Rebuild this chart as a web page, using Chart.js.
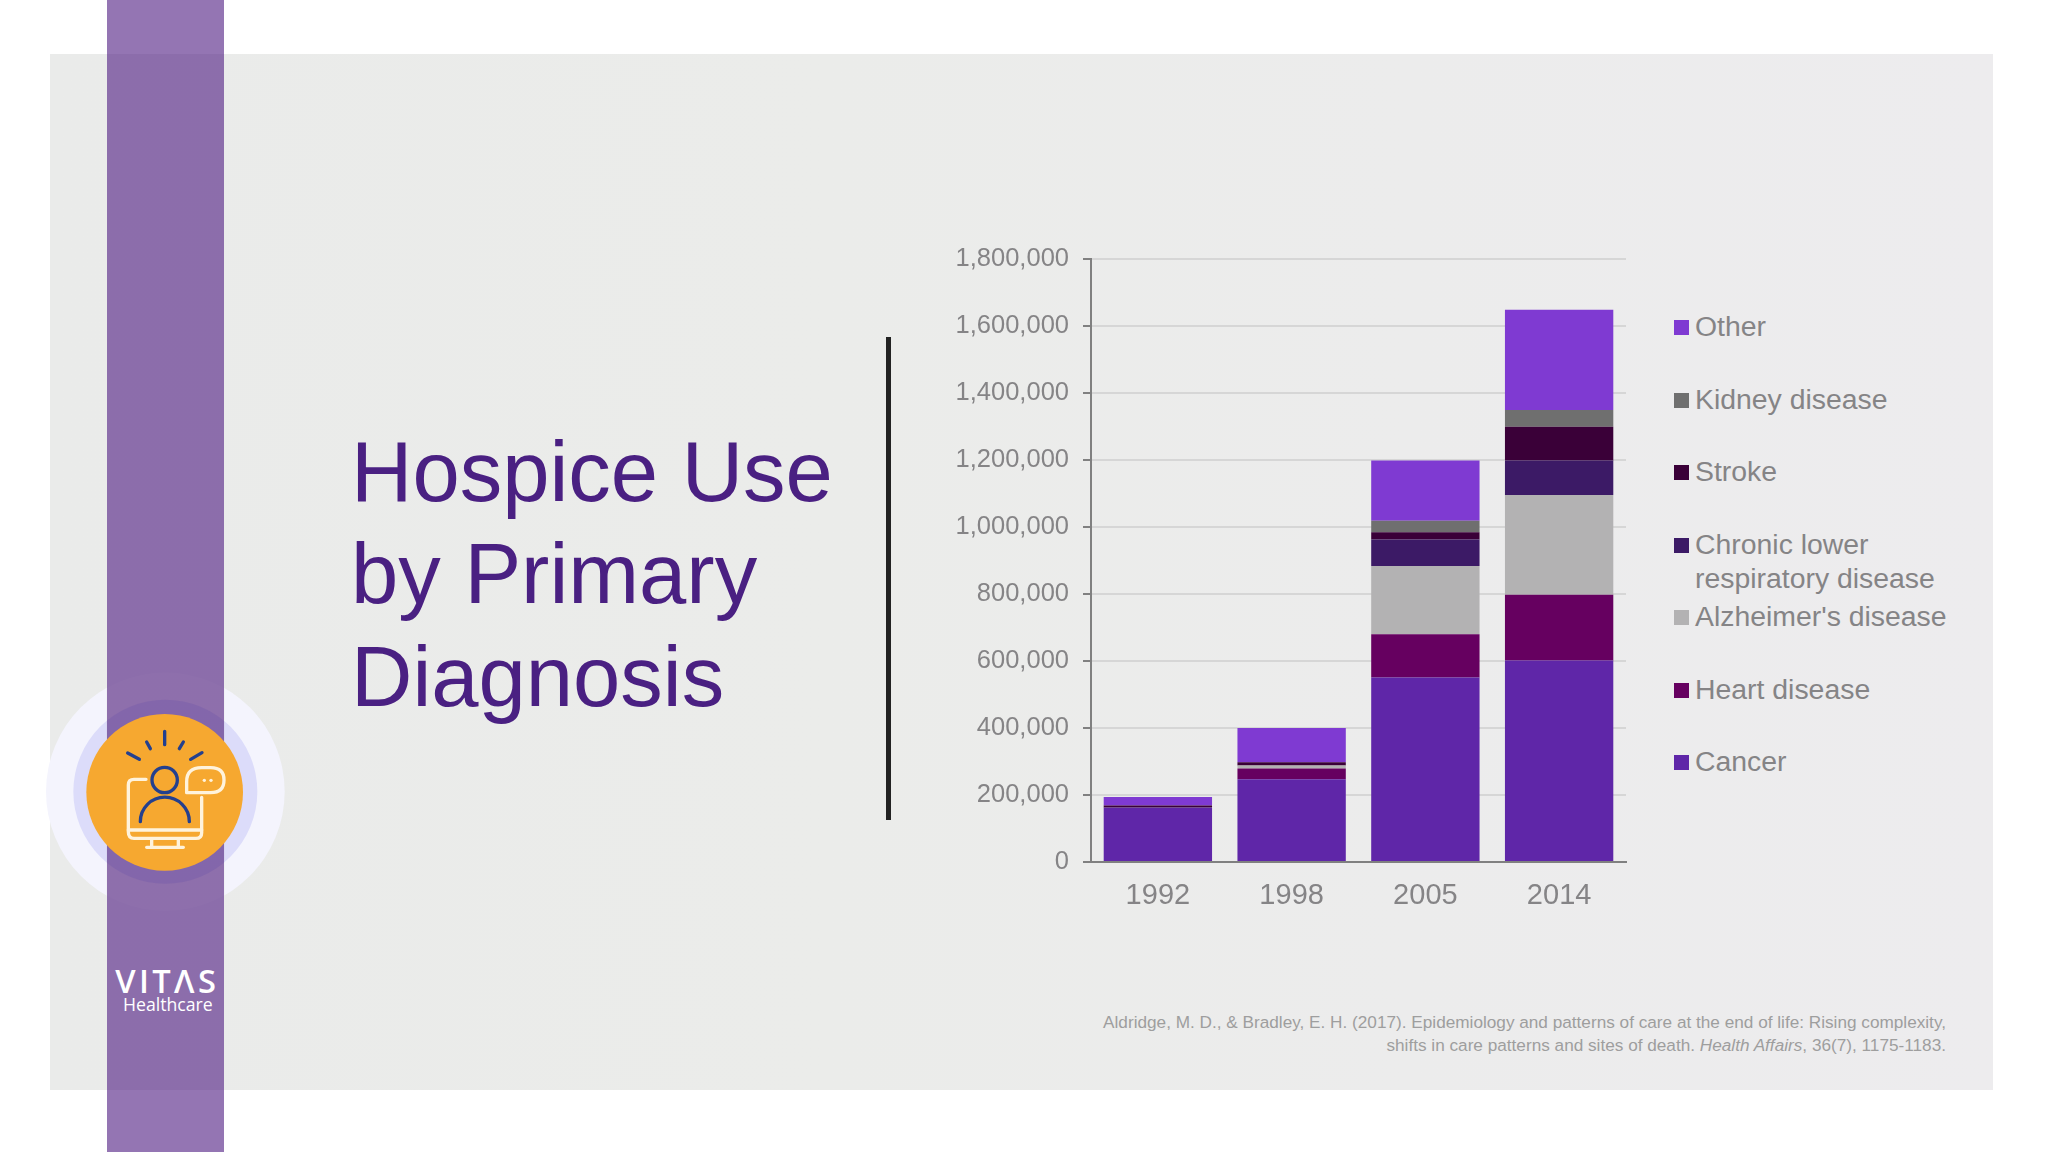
<!DOCTYPE html>
<html><head><meta charset="utf-8">
<style>
html,body{margin:0;padding:0;background:#fff;width:2048px;height:1152px;overflow:hidden;font-family:"Liberation Sans",Arial,sans-serif}
.abs{position:absolute}
#slide{left:50px;top:54px;width:1943px;height:1036px;background:linear-gradient(90deg,#eaebea 0%,#ebecea 40%,#edecee 100%)}
#strip{left:107px;top:0;width:117px;height:1152px;background:rgba(80,30,130,.61)}
#title{left:351px;top:421px;font-size:85px;line-height:102.3px;color:#4a2082;white-space:nowrap}
#rule{left:885.5px;top:337px;width:5px;height:483px;background:#222}
#cite{right:102px;top:1010.5px;font-size:17.2px;line-height:23px;color:#9e9e9e;text-align:right;white-space:nowrap}
#chartBox{left:930px;top:230px;width:720px;height:700px}
.lg{position:absolute;left:1695px;font-size:28.4px;line-height:34px;color:#858486;white-space:nowrap}
.sw{position:absolute;left:1674px;width:15px;height:15px}
#logo{left:0;top:660px}
</style></head><body>
<div id="slide" class="abs"></div>
<svg id="under" class="abs" style="left:0;top:660px" width="340" height="400" viewBox="0 0 1020 1200">
  <defs><clipPath id="offStrip"><path d="M0 0H320V1200H0Z M673 0H1020V1200H673Z"/></clipPath></defs>
  <g clip-path="url(#offStrip)">
    <circle cx="496" cy="395" r="358" fill="#f4f4fd"/>
    <circle cx="496" cy="395" r="276" fill="#dcdcfa"/>
  </g>
</svg>
<div id="strip" class="abs"></div>
<svg id="logo" class="abs" width="340" height="400" viewBox="0 0 1020 1200">
  <defs><clipPath id="onStrip"><rect x="320" y="0" width="353" height="1200"/></clipPath></defs>
  <g clip-path="url(#onStrip)">
    <circle cx="496" cy="395" r="358" fill="rgba(255,255,255,.02)"/>
    <circle cx="496" cy="395" r="276" fill="rgba(90,70,170,.2)"/>
  </g>
  <circle cx="494" cy="397" r="235" fill="#f6a830"/>
  <g fill="none" stroke="#fff3dc" stroke-width="10" stroke-linecap="round" stroke-linejoin="round">
    <path d="M438 358H402Q385 358 385 375V515Q385 535 402 535H588Q605 535 605 518V412"/>
    <path d="M385 510H605M455 537V561M535 537V561M440 562H550"/>
    <path d="M560 398V365Q560 323 605 323H632Q672 323 672 360Q672 398 632 398Z"/>
  </g>
  <circle cx="613" cy="361" r="5" fill="#fff3dc"/><circle cx="633" cy="361" r="5" fill="#fff3dc"/>
  <g fill="none" stroke="#24408e" stroke-width="10" stroke-linecap="round">
    <circle cx="494" cy="360" r="38"/>
    <path d="M421 485A73 73 0 0 1 568 485"/>
    <path d="M494 214V254M440 246L451 266M550 246L538 266M383 279L418 298M606 278L572 298"/>
  </g>
  <text x="346" y="999" font-family="Open Sans" font-weight="600" font-size="98" letter-spacing="10" fill="#fff">VITΛS</text>
  <text x="369" y="1054" font-family="Open Sans" font-size="53" fill="#fff">Healthcare</text>
</svg>
<div id="title" class="abs">Hospice Use<br>by Primary<br>Diagnosis</div>
<div id="rule" class="abs"></div>
<div id="cite" class="abs">Aldridge, M. D., &amp; Bradley, E. H. (2017). Epidemiology and patterns of care at the end of life: Rising complexity,<br>shifts in care patterns and sites of death. <i>Health Affairs</i>, 36(7), 1175-1183.</div>
<div id="chartBox" class="abs"><canvas id="c" width="720" height="700"></canvas></div>
<div id="legend"></div>
<script src="https://cdn.jsdelivr.net/npm/chart.js@4/dist/chart.umd.js"></script>
<script>
const categories = ["1992","1998","2005","2014"];
const cancer     = [162000,247000,551000,602000];
const heart      = [0,32000,129000,196000];
const alzheimers = [0,9000,204000,298000];
const clrd       = [1000,0,79000,103000];
const stroke     = [6000,10000,22000,101000];
const kidney     = [0,0,34000,50000];
const other      = [25000,102000,180000,299000];
const seriesNames = ["Cancer","Heart disease","Alzheimer's disease","Chronic lower respiratory disease","Stroke","Kidney disease","Other"];
const seriesColors = ["#5f26a8","#660060","#b3b2b3","#3c1a66","#3a0038","#6f6f6f","#7f3ad2"];
const seriesValues = [cancer,heart,alzheimers,clrd,stroke,kidney,other];
const yMax = 1800000, yStep = 200000;

const chart = new Chart(document.getElementById('c'), {
  type:'bar',
  data:{labels:categories,datasets:seriesNames.map((n,i)=>({label:n,data:seriesValues[i],backgroundColor:seriesColors[i],borderWidth:0,barPercentage:.81,categoryPercentage:1}))},
  options:{
    responsive:false,animation:false,devicePixelRatio:1,
    layout:{padding:{top:29,right:24,left:0,bottom:0}},
    plugins:{legend:{display:false},tooltip:{enabled:false},title:{display:false}},
    scales:{
      x:{stacked:true,
        grid:{display:false,drawTicks:false},
        border:{display:true,color:'#808080',width:2},
        ticks:{color:'#858486',font:{family:'Liberation Sans',size:29},padding:17,maxRotation:0},
        afterFit(s){s.height=68;}
      },
      y:{stacked:true,min:0,max:yMax,
        grid:{color:'#d6d6d6',lineWidth:2,tickColor:'#808080',tickLength:8,tickWidth:2},
        border:{display:true,color:'#808080',width:2},
        ticks:{stepSize:yStep,color:'#858486',font:{family:'Liberation Sans',size:25.5},padding:14,
          callback:v=>v.toLocaleString('en-US')},
        afterFit(s){s.width=161;}
      }
    }
  }
});

// legend, top-down as in the picture; the long label wraps on two lines
const wrap = {"Chronic lower respiratory disease":["Chronic lower","respiratory disease"]};
const lg = document.getElementById('legend');
chart.data.datasets.slice().reverse().forEach((d,i)=>{
  const cy = 326.5 + i*72.5;
  const sw = document.createElement('div'); sw.className='sw'; sw.style.top=(cy-6.5)+'px'; sw.style.background=d.backgroundColor; lg.appendChild(sw);
  const t = document.createElement('div'); t.className='lg'; t.style.top=(cy-17.3)+'px';
  (wrap[d.label]||[d.label]).forEach((line,k)=>{ if(k) t.appendChild(document.createElement('br')); t.appendChild(document.createTextNode(line)); });
  lg.appendChild(t);
});
</script>
</body></html>
